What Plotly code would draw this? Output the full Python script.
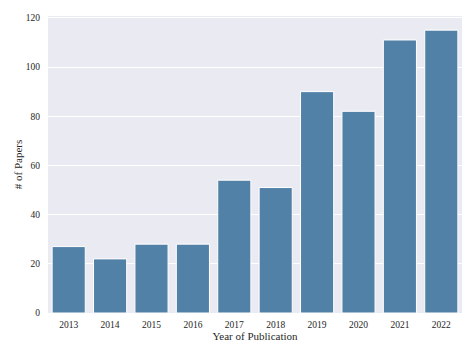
import plotly.graph_objects as go

years = ["2013", "2014", "2015", "2016", "2017", "2018", "2019", "2020", "2021", "2022"]
papers = [27, 22, 28, 28, 54, 51, 90, 82, 111, 115]
y_ticks = [0, 20, 40, 60, 80, 100, 120]

family = "Liberation Serif, DejaVu Serif, serif"
tick_font = dict(family=family, size=9.5, color="#262626")
title_font = dict(family=family, size=11, color="#262626")

fig = go.Figure(go.Bar(
    x=years, y=papers,
    marker=dict(color="#5281A7", line=dict(color="#FFFFFF", width=1)),
    width=0.8,
))
fig.update_layout(
    width=474, height=356,
    margin=dict(l=48, r=12, t=16, b=43, autoexpand=False),
    paper_bgcolor="white",
    plot_bgcolor="#EAEAF2",
    font=tick_font,
    showlegend=False,
    bargap=0.2,
)
fig.update_xaxes(
    type="category", range=[-0.5, 9.5],
    showgrid=False, zeroline=False, showline=False,
    ticks="", ticklabelstandoff=4, tickfont=tick_font,
    title=dict(text="Year of Publication", font=title_font, standoff=3),
)
fig.update_yaxes(
    range=[0, 120.75], tickvals=y_ticks,
    showgrid=True, gridcolor="white", gridwidth=1,
    zeroline=False, showline=False, ticks="",
    ticklabelstandoff=7, tickfont=tick_font,
    title=dict(text="# of Papers", font=title_font, standoff=0),
)
fig.write_html("out.html", config={"displayModeBar": False},
               post_script="document.body.style.margin='0';")
